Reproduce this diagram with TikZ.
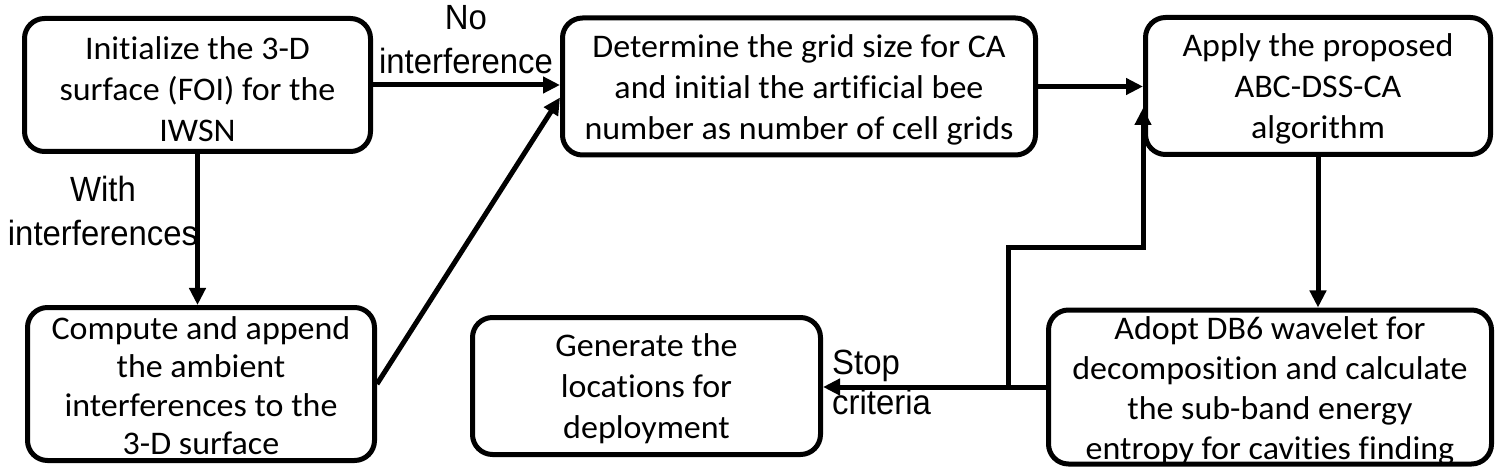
\documentclass[tikz,border=0pt]{standalone}
\usepackage{fontspec}
\setmainfont{Carlito}[FakeStretch=1.03,Ligatures={NoCommon,NoContextual}]
\newfontfamily\labfont{Liberation Sans}[FakeStretch=0.94]
\usetikzlibrary{arrows.meta}
\begin{document}
\begin{tikzpicture}[x=1pt,y=-1pt,
  box/.style={draw, line width=5pt, rounded corners=20pt, inner sep=0pt},
  txt/.style={align=center, font=\fontsize{33}{41}\selectfont, inner sep=0pt},
  conn/.style={line width=5pt, -{Triangle[length=17pt,width=16pt]}},
  lab/.style={font=\labfont\fontsize{35}{44}\selectfont, inner sep=0pt}]
\useasboundingbox (0,0) rectangle (1500,473);
\fill[white] (0,0) rectangle (1500,473);

\node[box, minimum width=346pt, minimum height=133pt] (b1) at (197.5,85) {};
\node[box, minimum width=473pt, minimum height=137pt] (b2) at (799,86.5) {};
\node[box, minimum width=345pt, minimum height=137pt] (b3) at (1318,86) {};
\node[box, minimum width=347pt, minimum height=153pt] (b4) at (201,384) {};
\node[box, minimum width=348pt, minimum height=137pt] (b5) at (646.5,386) {};
\node[box, minimum width=443pt, minimum height=154pt] (b6) at (1270,387) {};

\node[txt] (t1) at ([yshift=-4.5pt]b1.center) {Initialize the 3-D\\surface (FOI) for the\\IWSN};
\node[txt] (t2) at ([yshift=-3pt]b2.center) {Determine the grid size for CA\\and initial the artificial bee\\number as number of cell grids};
\node[txt] (t3) at ([yshift=-3pt]b3.center) {Apply the proposed\\ABC-DSS-CA\\algorithm};
\node[txt, font=\fontsize{33}{38.5}\selectfont] (t4) at ([yshift=-1.5pt]b4.center) {Compute and append\\the ambient\\interferences to the\\3-D surface};
\node[txt] (t5) at ([yshift=-3pt]b5.center) {Generate the\\locations for\\deployment};
\node[txt, font=\fontsize{33}{40}\selectfont] (t6) at ([yshift=-4pt]b6.center) {Adopt DB6 wavelet for\\decomposition and calculate\\the sub-band energy\\entropy for cavities finding};

\draw[conn] (b1.east) -- (b1.east -| b2.west);
\draw[conn] (b1.south) -- (b1.south |- b4.north);
\draw[conn] (b4.east) -- ([yshift=-11pt]b2.west);
\draw[conn] (b2.east) -- (b2.east -| b3.west);
\draw[conn] (b3.south) -- (b3.south |- b6.north);
\draw[conn] (b6.west) -- (b6.west -| b5.east);
\coordinate (j) at (1008,387);
\coordinate (k) at (1008,248);
\draw[conn] (j) -- (k) -| ([yshift=-22pt]b3.west);

\node[lab, align=center] (l1) at (466,40) {No\\interference};
\node[lab, align=center] (l2) at (103,211) {With\\interferences};
\node[lab, align=left, anchor=west, font=\labfont\fontsize{35}{40}\selectfont] (l3) at (832,382) {Stop\\criteria};
\end{tikzpicture}
\end{document}
